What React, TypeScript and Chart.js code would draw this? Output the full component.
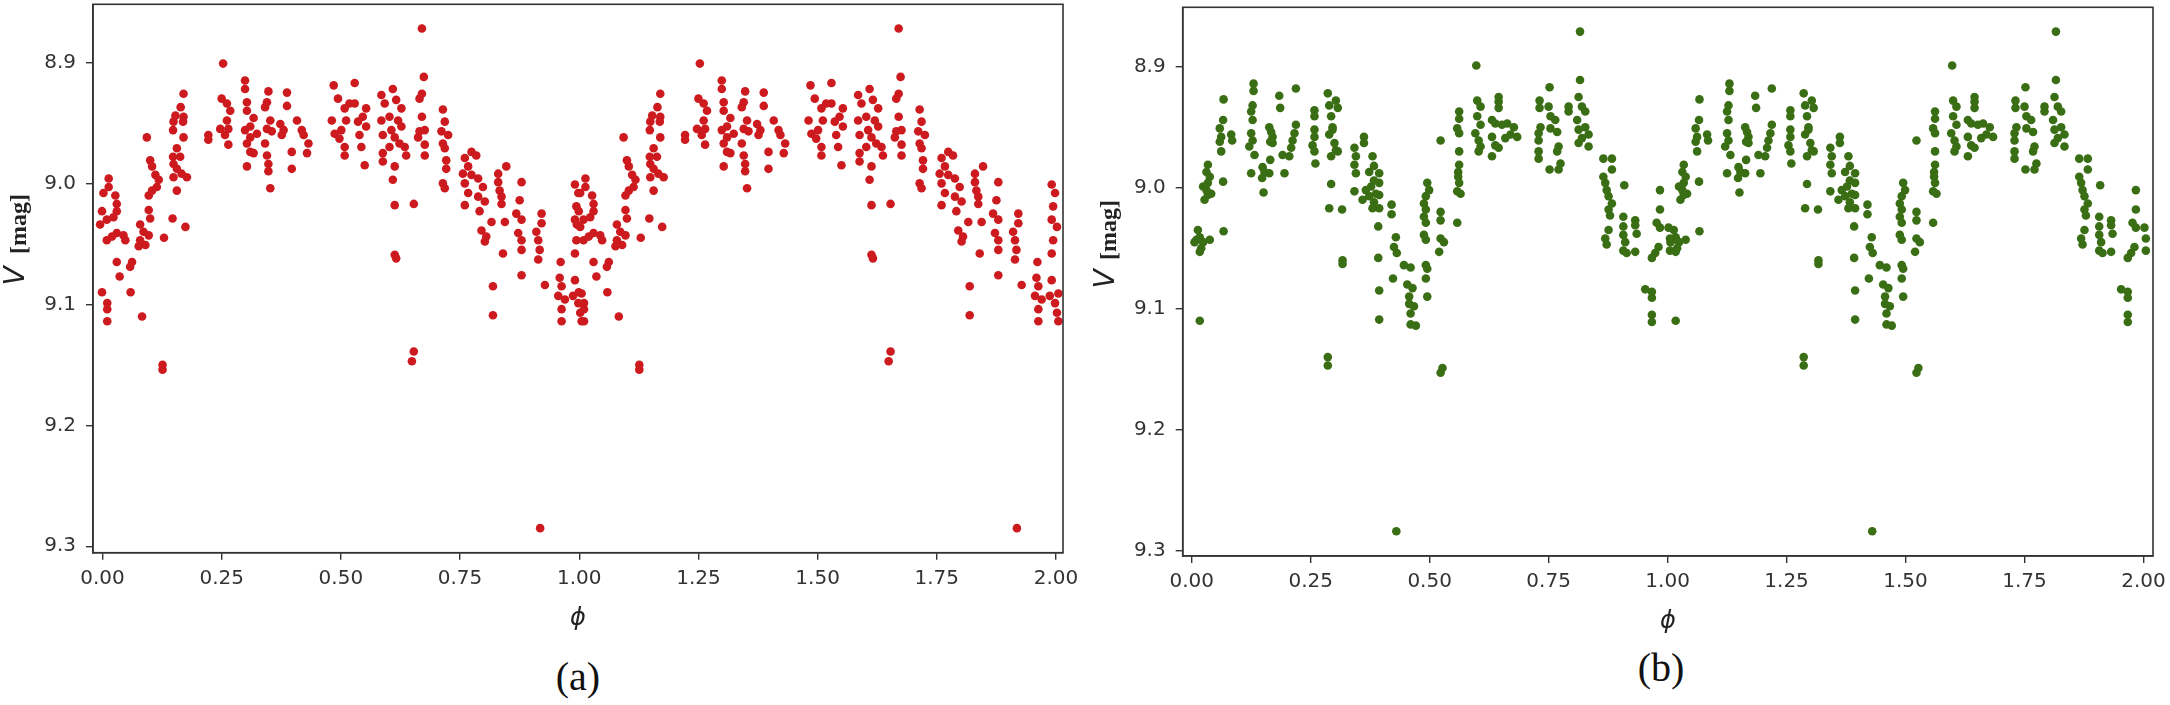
import React, { useEffect, useRef } from 'react';
import { Chart, registerables } from 'chart.js';

Chart.register(...registerables);

const X_TICKS = [0, 0.25, 0.5, 0.75, 1, 1.25, 1.5, 1.75, 2];
const Y_TICKS = [8.9, 9.0, 9.1, 9.2, 9.3];

// Panel (a): phase-folded light curve (one cycle; shown twice)
const phaseA = [
  0.253, 0.299, 0.299, 0.170, 0.164, 0.153, 0.170, 0.149, 0.169, 0.148,
  0.170, 0.156, 0.148, 0.163, 0.149, 0.156, 0.166, 0.177, 0.149, 0.156,
  0.147, 0.174, 0.093, 0.100, 0.104, 0.111, 0.118, 0.114, 0.104, 0.097,
  0.097, 0.100, 0.079, 0.086, 0.097, 0.079, 0.090, 0.076, 0.129, 0.013,
  0.013, 0.002, 0.027, 0.030, 0.030, -0.001, 0.023, 0.009, -0.005, 0.020,
  0.009, 0.030, 0.044, 0.048, 0.030, 0.062, 0.058, 0.036, -0.001, 0.059,
  0.010, 0.010, 0.010, 0.083, 0.126, 0.126, 0.222, 0.222, 0.250, 0.261,
  0.268, 0.261, 0.247, 0.264, 0.257, 0.264, 0.303, 0.303, 0.317, 0.310,
  0.299, 0.324, 0.310, 0.303, 0.310, 0.317, 0.303, 0.348, 0.345, 0.341,
  0.352, 0.345, 0.355, 0.341, 0.345, 0.348, 0.348, 0.352, 0.387, 0.387,
  0.373, 0.380, 0.376, 0.397, 0.397, 0.408, 0.418, 0.422, 0.432, 0.429,
  0.485, 0.481,
  0.670, 0.674, 0.670, 0.665, 0.670, 0.665, 0.676, 0.662, 0.676, 0.676,
  0.529, 0.494, 0.518, 0.529, 0.508, 0.511, 0.501, 0.487, 0.497, 0.508,
  0.508, 0.553, 0.546, 0.536, 0.553, 0.539, 0.543, 0.550, 0.585, 0.609,
  0.592, 0.616, 0.627, 0.602, 0.620, 0.585, 0.627, 0.606, 0.588, 0.613,
  0.623, 0.634, 0.602, 0.588, 0.637, 0.588, 0.613, 0.609, 0.613, 0.653,
  0.613, 0.616, 0.653, 0.649, 0.714, 0.718, 0.711, 0.725, 0.714, 0.718,
  0.721, 0.721, 0.714, 0.718, 0.774, 0.784, 0.760, 0.767, 0.756, 0.774,
  0.788, 0.760, 0.798, 0.767, 0.788, 0.802, 0.760, 0.791, 0.847, 0.830,
  0.830, 0.833, 0.837, 0.837, 0.816, 0.844, 0.795, 0.805, 0.802, 0.840,
  0.819, 0.819, 0.879, 0.875, 0.868, 0.879, 0.872, 0.879, 0.879, 0.921,
  0.921, 0.910, 0.914, 0.917, 0.914, 0.879, 0.928, 0.961, 0.959, 0.963,
  0.956, 0.970, 0.963, 0.963, 0.991, 0.998, 0.994, 0.991, 1.002, 0.994,
  0.991, 0.991, 1.005, 0.987, 0.998, 1.002, 1.005, 0.918,
];
const magA = [
  8.901, 8.915, 8.922, 8.926, 8.937, 8.944, 8.945, 8.949, 8.949, 8.956,
  8.962, 8.971, 8.978, 8.978, 8.984, 8.988, 8.992, 8.995, 8.995, 9.006,
  9.029, 9.036, 8.962, 8.981, 8.986, 8.993, 8.997, 9.003, 9.006, 9.010,
  9.022, 9.029, 9.034, 9.040, 9.043, 9.047, 9.051, 9.052, 9.045, 8.996,
  9.003, 9.008, 9.010, 9.017, 9.023, 9.023, 9.028, 9.030, 9.034, 9.044,
  9.047, 9.041, 9.043, 9.047, 9.065, 9.065, 9.069, 9.077, 9.090, 9.090,
  9.099, 9.104, 9.114, 9.110, 9.150, 9.154, 8.960, 8.964, 8.930, 8.934,
  8.940, 8.948, 8.955, 8.955, 8.960, 8.968, 8.933, 8.940, 8.946, 8.953,
  8.956, 8.959, 8.962, 8.967, 8.974, 8.975, 8.986, 8.924, 8.933, 8.937,
  8.948, 8.955, 8.957, 8.967, 8.977, 8.984, 8.990, 9.004, 8.925, 8.936,
  8.951, 8.956, 8.960, 8.974, 8.988, 8.948, 8.956, 8.960, 8.967, 8.975,
  8.919, 8.948,
  8.872, 8.912, 8.926, 8.930, 8.945, 8.957, 8.956, 8.962, 8.968, 8.977,
  8.917, 8.930, 8.934, 8.934, 8.938, 8.948, 8.956, 8.959, 8.963, 8.970,
  8.977, 8.938, 8.945, 8.949, 8.953, 8.960, 8.970, 8.985, 8.927, 8.922,
  8.934, 8.931, 8.938, 8.945, 8.948, 8.948, 8.953, 8.956, 8.960, 8.962,
  8.967, 8.970, 8.970, 8.975, 8.977, 8.982, 8.986, 8.997, 9.018, 9.017,
  9.059, 9.062, 9.139, 9.147, 8.939, 8.949, 8.957, 8.960, 8.967, 8.971,
  8.981, 8.988, 9.000, 9.004, 8.974, 8.977, 8.979, 8.986, 8.992, 8.993,
  8.996, 9.000, 9.003, 9.008, 9.011, 9.015, 9.018, 9.023, 8.986, 8.992,
  8.999, 9.006, 9.011, 9.017, 9.032, 9.032, 9.039, 9.044, 9.048, 9.058,
  9.085, 9.109, 8.999, 9.014, 9.025, 9.030, 9.041, 9.047, 9.055, 9.025,
  9.033, 9.040, 9.047, 9.055, 9.063, 9.076, 9.084, 9.065, 9.078, 9.085,
  9.093, 9.096, 9.104, 9.114, 9.001, 9.008, 9.019, 9.030, 9.036, 9.047,
  9.058, 9.080, 9.091, 9.093, 9.099, 9.107, 9.114, 9.285,
];

// Panel (b): phase-folded light curve (one cycle; shown twice)
const phaseB = [
  0.017, 0.013, 0.017, 0.010, 0.024, 0.038, 0.020, 0.017, 0.006, 0.067,
  0.034, 0.031, 0.038, 0.034, 0.031, 0.041, 0.027, 0.034, 0.024, 0.066,
  0.067, 0.066, 0.059, 0.062, 0.059, 0.062, 0.083, 0.085, 0.130, 0.130,
  0.128, 0.125, 0.128, 0.125, 0.128, 0.121, 0.132, 0.125, 0.149, 0.153,
  0.163, 0.148, 0.151, 0.163, 0.167, 0.170, 0.165, 0.170, 0.165, 0.184,
  0.186, 0.219, 0.219, 0.216, 0.212, 0.209, 0.205, 0.191, 0.195, 0.258,
  0.258, 0.258, 0.258, 0.254, 0.258, 0.260, 0.286, 0.289, 0.303, 0.307,
  0.293, 0.296, 0.289, 0.300, 0.303, 0.293, 0.307, 0.296, 0.293, 0.289,
  0.316, 0.317, 0.317, 0.286, 0.286, 0.362, 0.362, 0.342, 0.345, 0.342,
  0.345, 0.342, 0.380, 0.383, 0.373, 0.394, 0.383, 0.394, 0.377, 0.366,
  0.387, 0.373, 0.394, 0.359, 0.383, 0.394, 0.380, 0.420, 0.420, 0.392,
  0.429, 0.425, 0.431, 0.392, 0.423, 0.446, 0.460, 0.394, 0.394, 0.453,
  0.464, 0.457, 0.457, 0.467, 0.460, 0.460, 0.471, 0.430,
  0.816, 0.816, 0.813, 0.820, 0.827, 0.810, 0.813, 0.820, 0.834, 0.813,
  0.834, 0.827, 0.792, 0.792, 0.752, 0.731, 0.731, 0.733, 0.729, 0.729,
  0.729, 0.729, 0.750, 0.754, 0.764, 0.754, 0.768, 0.771, 0.768, 0.775,
  0.752, 0.771, 0.598, 0.600, 0.607, 0.600, 0.607, 0.596, 0.603, 0.607,
  0.603, 0.645, 0.645, 0.645, 0.631, 0.638, 0.652, 0.663, 0.677, 0.670,
  0.684, 0.631, 0.638, 0.645, 0.631, 0.659, 0.523, 0.562, 0.562, 0.558,
  0.562, 0.562, 0.562, 0.560, 0.560, 0.562, 0.558, 0.565, 0.558, 0.495,
  0.499, 0.492, 0.488, 0.492, 0.488, 0.492, 0.488, 0.492, 0.492, 0.495,
  0.492, 0.495, 0.523, 0.523, 0.523, 0.530, 0.520, 0.527, 0.523, 0.865,
  0.883, 0.883, 0.865, 0.869, 0.872, 0.876, 0.883, 0.876, 0.879, 0.876,
  0.869, 0.872, 0.909, 0.907, 0.907, 0.932, 0.932, 0.907, 0.911, 0.935,
  0.907, 0.914, 0.932, 0.984, 0.984, 0.977, 0.984, 0.981, 0.974, 0.967,
  1.002, 1.005, 1.005, 0.953, 0.967, 0.967, 0.967, 0.967,
];
const magB = [
  9.110, 9.035, 9.041, 9.043, 9.045, 9.043, 9.050, 9.053, 9.045, 9.036,
  8.981, 8.987, 8.991, 8.996, 9.002, 9.005, 9.010, 9.006, 8.999, 8.995,
  8.927, 8.944, 8.951, 8.958, 8.962, 8.970, 8.956, 8.961, 8.914, 8.920,
  8.932, 8.937, 8.944, 8.955, 8.961, 8.966, 8.973, 8.988, 8.983, 8.987,
  8.988, 8.992, 9.004, 8.950, 8.954, 8.958, 8.962, 8.963, 8.977, 8.924,
  8.934, 8.918, 8.948, 8.955, 8.961, 8.967, 8.974, 8.973, 8.988, 8.936,
  8.941, 8.952, 8.958, 8.965, 8.970, 8.980, 8.922, 8.932, 8.928, 8.934,
  8.941, 8.950, 8.956, 8.963, 8.969, 8.974, 8.970, 8.952, 8.997, 9.017,
  9.018, 9.060, 9.063, 9.140, 9.147, 8.958, 8.963, 8.967, 8.974, 8.981,
  8.988, 9.003, 8.974, 8.982, 8.987, 8.988, 8.994, 8.996, 8.999, 9.002,
  9.005, 9.007, 9.006, 9.010, 9.012, 9.017, 9.017, 9.014, 9.022, 9.032,
  9.041, 9.049, 9.054, 9.058, 9.075, 9.064, 9.066, 9.085, 9.109, 9.080,
  9.083, 9.090, 9.096, 9.098, 9.104, 9.113, 9.114, 9.284,
  8.871, 8.911, 8.925, 8.933, 8.937, 8.944, 8.952, 8.959, 8.956, 8.963,
  8.966, 8.950, 8.933, 8.937, 8.917, 8.928, 8.934, 8.950, 8.955, 8.961,
  8.970, 8.976, 8.933, 8.941, 8.944, 8.951, 8.954, 8.966, 8.970, 8.980,
  8.985, 8.985, 8.899, 8.928, 8.933, 8.941, 8.948, 8.955, 8.961, 8.966,
  8.970, 8.925, 8.929, 8.934, 8.944, 8.947, 8.948, 8.947, 8.950, 8.956,
  8.958, 8.958, 8.965, 8.967, 8.974, 8.959, 8.961, 8.937, 8.943, 8.951,
  8.955, 8.970, 8.981, 8.987, 8.991, 8.996, 9.003, 9.005, 9.029, 8.996,
  9.002, 9.007, 9.013, 9.018, 9.024, 9.029, 9.039, 9.043, 9.064, 9.067,
  9.075, 9.090, 9.020, 9.027, 9.042, 9.045, 9.053, 9.149, 9.153, 8.976,
  8.976, 8.985, 8.991, 8.996, 9.002, 9.007, 9.013, 9.018, 9.023, 9.035,
  9.042, 9.047, 8.998, 9.024, 9.032, 9.027, 9.031, 9.039, 9.045, 9.038,
  9.052, 9.054, 9.053, 9.002, 9.018, 9.029, 9.033, 9.049, 9.054, 9.058,
  9.033, 9.042, 9.052, 9.084, 9.086, 9.091, 9.105, 9.111,
];

const AXIS_COLOR = '#333333';
const TICK_FONT = { family: 'DejaVu Sans', size: 20 };

const framePlugin = {
  id: 'frameBox',
  afterDatasetsDraw(chart: any) {
    const { ctx, chartArea: a } = chart;
    ctx.save();
    ctx.strokeStyle = AXIS_COLOR;
    ctx.lineWidth = 1.6;
    ctx.strokeRect(a.left, a.top, a.right - a.left, a.bottom - a.top);
    ctx.restore();
  },
};

type PanelProps = {
  left: number;
  width: number;
  height: number;
  phases: number[];
  mags: number[];
  color: string;
  xMin: number;
  xMax: number;
  yMin: number;
  yMax: number;
  padTop: number;
  padRight: number;
  yAxisWidth: number;
  xAxisHeight: number;
  titlePad: number;
};

function Panel(p: PanelProps) {
  const ref = useRef<HTMLCanvasElement | null>(null);
  useEffect(() => {
    if (!ref.current) return;
    const first = p.phases.map((ph, i) => ({ x: ph, y: p.mags[i] }));
    const second = p.phases.map((ph, i) => ({ x: ph + 1, y: p.mags[i] }));
    const chart = new Chart(ref.current, {
      type: 'scatter',
      data: {
        datasets: [
          {
            data: [...first, ...second],
            backgroundColor: p.color,
            borderWidth: 0,
            pointRadius: 4.3,
            pointHoverRadius: 4.3,
          },
        ],
      },
      options: {
        animation: false,
        responsive: false,
        events: [],
        layout: { padding: { top: p.padTop, right: p.padRight, bottom: 0, left: 0 } },
        plugins: { legend: { display: false }, tooltip: { enabled: false } },
        scales: {
          x: {
            type: 'linear',
            min: p.xMin,
            max: p.xMax,
            afterBuildTicks: (s: any) => {
              s.ticks = X_TICKS.map((v) => ({ value: v }));
            },
            afterFit: (s: any) => {
              s.height = p.xAxisHeight;
              s.paddingLeft = 0;
              s.paddingRight = 0;
            },
            ticks: {
              font: TICK_FONT,
              color: AXIS_COLOR,
              padding: 7,
              maxRotation: 0,
              autoSkip: false,
              callback: (v: any) => Number(v).toFixed(2),
            },
            grid: {
              display: true,
              drawOnChartArea: false,
              drawTicks: true,
              tickLength: 7,
              color: AXIS_COLOR,
              lineWidth: 1.4,
            },
            border: { display: true, color: AXIS_COLOR, width: 1.6 },
            title: {
              display: true,
              text: 'ϕ',
              color: '#222222',
              font: { family: 'DejaVu Sans', size: 24, style: 'italic' },
              padding: { top: 0, bottom: p.titlePad },
            },
          },
          y: {
            type: 'linear',
            reverse: true,
            min: p.yMin,
            max: p.yMax,
            afterBuildTicks: (s: any) => {
              s.ticks = Y_TICKS.map((v) => ({ value: v }));
            },
            afterFit: (s: any) => {
              s.width = p.yAxisWidth;
              s.paddingTop = 0;
              s.paddingBottom = 0;
            },
            ticks: {
              font: TICK_FONT,
              color: AXIS_COLOR,
              padding: 10,
              autoSkip: false,
              callback: (v: any) => Number(v).toFixed(1),
            },
            grid: {
              display: true,
              drawOnChartArea: false,
              drawTicks: true,
              tickLength: 7,
              color: AXIS_COLOR,
              lineWidth: 1.4,
            },
            border: { display: true, color: AXIS_COLOR, width: 1.6 },
          },
        },
      },
      plugins: [framePlugin],
    });
    return () => chart.destroy();
  }, []);
  return (
    <canvas
      ref={ref}
      width={p.width}
      height={p.height}
      style={{ position: 'absolute', left: p.left, top: 0, width: p.width, height: p.height, display: 'block' }}
    />
  );
}

function RotLabel({ cx, cy, w, h, children, style }: any) {
  return (
    <div
      style={{
        position: 'absolute',
        left: cx - w / 2,
        top: cy - h / 2,
        width: w,
        height: h,
        lineHeight: h + 'px',
        textAlign: 'center',
        whiteSpace: 'nowrap',
        transform: 'rotate(-90deg)',
        color: '#222222',
        ...style,
      }}
    >
      {children}
    </div>
  );
}

function Caption({ cx, top, text }: { cx: number; top: number; text: string }) {
  return (
    <div
      style={{
        position: 'absolute',
        left: cx - 60,
        top,
        width: 120,
        textAlign: 'center',
        fontFamily: '"Liberation Serif", "Times New Roman", serif',
        fontSize: 40,
        lineHeight: '40px',
        color: '#111111',
      }}
    >
      {text}
    </div>
  );
}

export default function App() {
  const vStyle = { fontFamily: '"DejaVu Sans", sans-serif', fontStyle: 'italic', fontSize: 28 };
  const magStyle = { fontFamily: '"Liberation Serif", serif', fontSize: 24, fontWeight: 'bold' };
  return (
    <div
      style={{
        position: 'absolute',
        left: 0,
        top: 0,
        width: 2170,
        height: 705,
        overflow: 'hidden',
        background: '#ffffff',
      }}
    >
      <Panel
        left={0}
        width={1090}
        height={640}
        phases={phaseA}
        mags={magA}
        color="rgb(204,26,30)"
        xMin={-0.0199}
        xMax={2.0147}
        yMin={8.852}
        yMax={9.3053}
        padTop={4.3}
        padRight={27}
        yAxisWidth={93}
        xAxisHeight={87.3}
        titlePad={7}
      />
      <Panel
        left={1090}
        width={1080}
        height={640}
        phases={phaseB}
        mags={magB}
        color="rgb(58,110,20)"
        xMin={-0.0189}
        xMax={2.02}
        yMin={8.8509}
        yMax={9.3044}
        padTop={7.3}
        padRight={17}
        yAxisWidth={92.7}
        xAxisHeight={84}
        titlePad={4}
      />
      <RotLabel cx={15} cy={276} w={40} h={34} style={vStyle}>V</RotLabel>
      <RotLabel cx={18} cy={224} w={90} h={30} style={magStyle}>[mag]</RotLabel>
      <RotLabel cx={1105} cy={279} w={40} h={34} style={vStyle}>V</RotLabel>
      <RotLabel cx={1108} cy={230} w={90} h={30} style={magStyle}>[mag]</RotLabel>
      <Caption cx={578} top={657} text="(a)" />
      <Caption cx={1661} top={648} text="(b)" />
    </div>
  );
}
